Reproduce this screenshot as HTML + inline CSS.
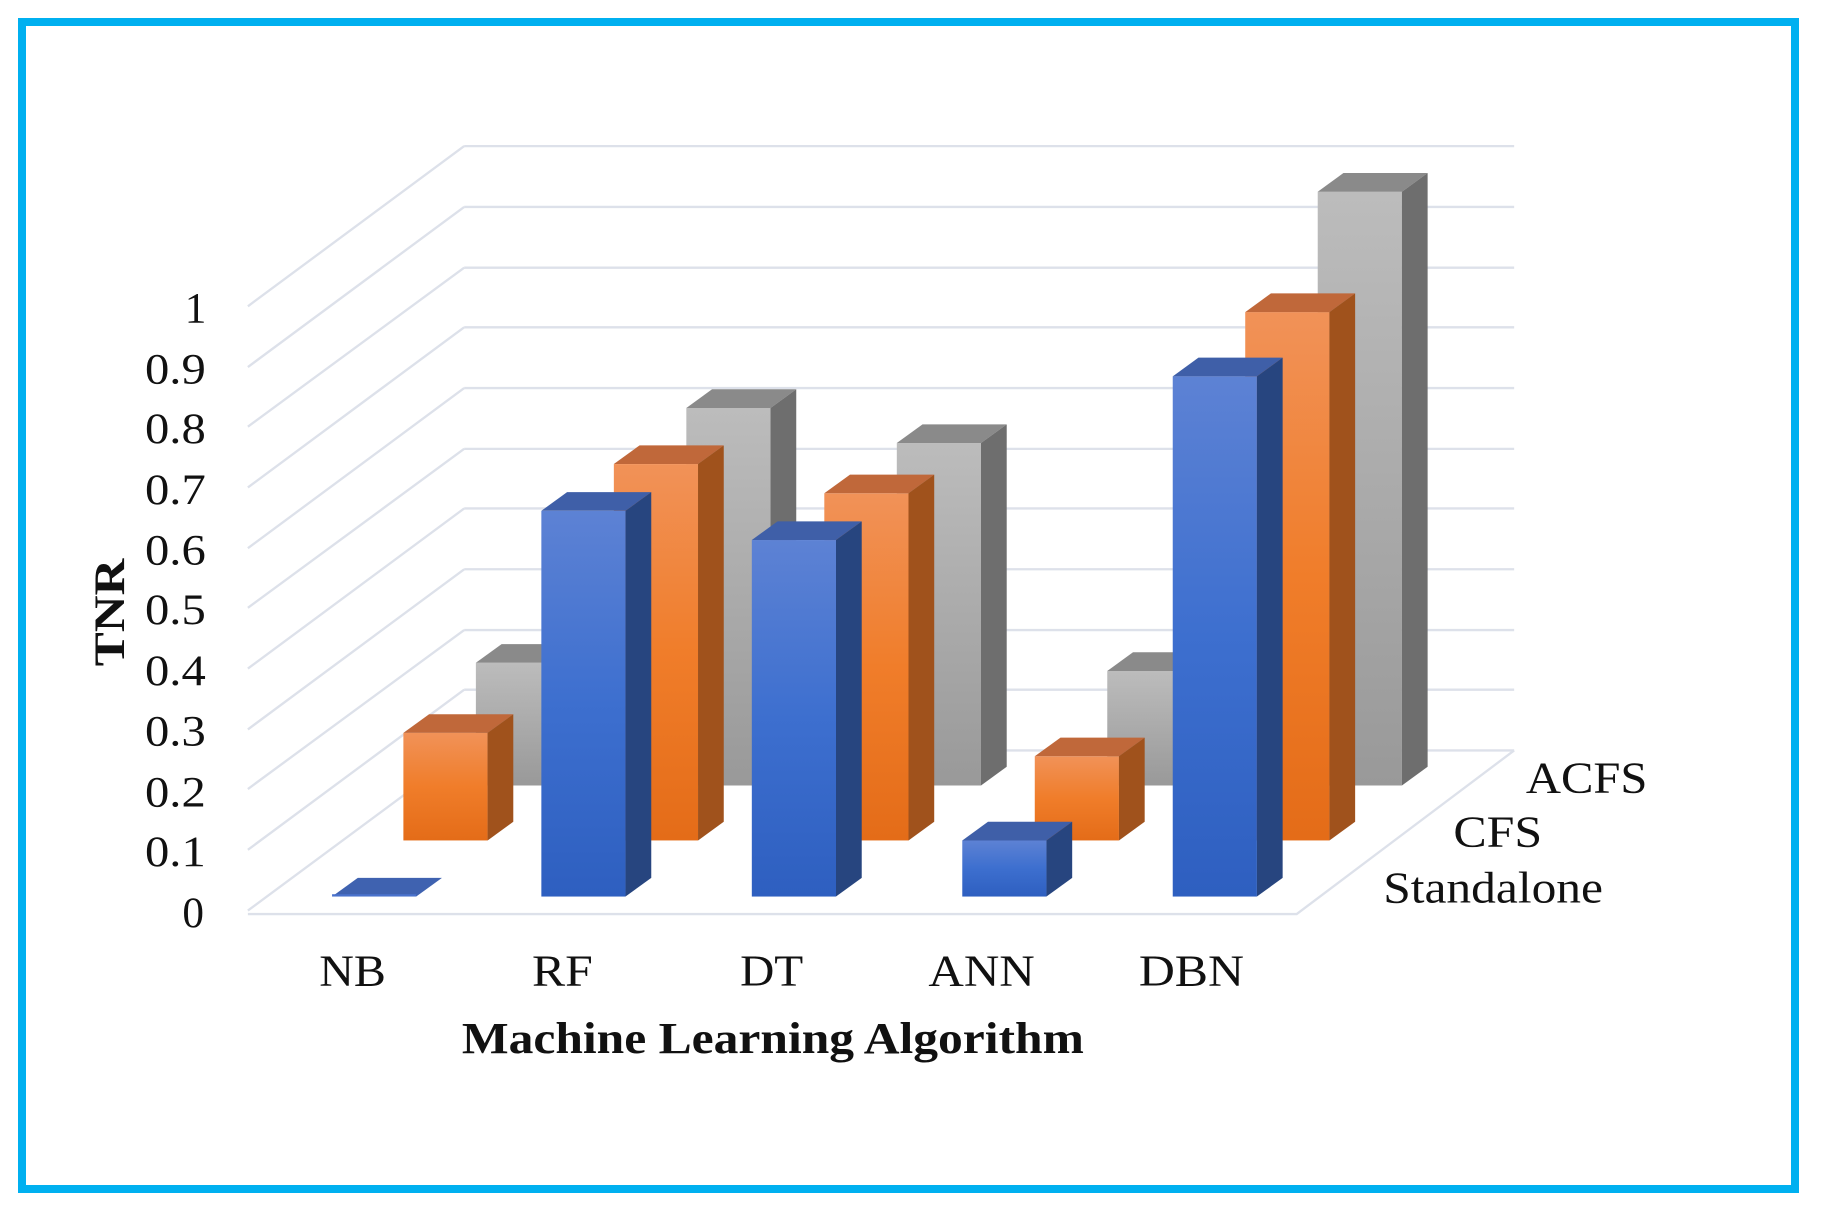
<!DOCTYPE html>
<html><head><meta charset="utf-8"><style>
html,body{margin:0;padding:0;background:#fff;}
#wrap{position:relative;width:1824px;height:1218px;overflow:hidden;background:#fff;}
#frame{position:absolute;left:18px;top:18px;width:1765px;height:1159px;border:8px solid #00b0f0;}
svg{position:absolute;left:0;top:0;}
text{font-family:"Liberation Serif",serif;fill:#111;}
</style></head><body><div id="wrap"><div id="frame"></div>
<svg width="1824" height="1218" viewBox="0 0 1560 1042" preserveAspectRatio="none">
<defs>
<linearGradient id="gb" x1="0" y1="0" x2="0" y2="1"><stop offset="0" stop-color="#5d82d4"/><stop offset="0.5" stop-color="#3d6fcf"/><stop offset="1" stop-color="#2e5fc0"/></linearGradient>
<linearGradient id="go" x1="0" y1="0" x2="0" y2="1"><stop offset="0" stop-color="#f19258"/><stop offset="0.5" stop-color="#f07d2a"/><stop offset="1" stop-color="#e46c18"/></linearGradient>
<linearGradient id="gg" x1="0" y1="0" x2="0" y2="1"><stop offset="0" stop-color="#bcbcbc"/><stop offset="1" stop-color="#999"/></linearGradient>
</defs>
<g transform="translate(-3,-3)">
<g stroke="#dde1ea" stroke-width="2" fill="none">
<path d="M400 128H1298M400 180H1298M400 232H1298M400 283H1298M400 335H1298M400 387H1298M400 438H1298M400 490H1298M400 542H1298M400 593H1298M400 645H1298"/>
<path d="M400 128L215 265M400 180L215 317M400 232L215 368M400 283L215 420M400 335L215 472M400 387L215 523M400 438L215 575M400 490L215 627M400 542L215 678M400 593L215 730M400 645L215 782"/>
<path d="M215 785H1112L1298 645"/>
</g>
<g>
<rect x="410" y="570" width="72" height="105" fill="url(#gg)"/><polygon points="410,570 432,554 504,554 482,570" fill="#8a8a8a"/><polygon points="482,570 504,554 504,659 482,675" fill="#6e6e6e"/>
<rect x="590" y="352" width="72" height="323" fill="url(#gg)"/><polygon points="590,352 612,336 684,336 662,352" fill="#8a8a8a"/><polygon points="662,352 684,336 684,659 662,675" fill="#6e6e6e"/>
<rect x="770" y="382" width="72" height="293" fill="url(#gg)"/><polygon points="770,382 792,366 864,366 842,382" fill="#8a8a8a"/><polygon points="842,382 864,366 864,659 842,675" fill="#6e6e6e"/>
<rect x="950" y="577" width="72" height="98" fill="url(#gg)"/><polygon points="950,577 972,561 1044,561 1022,577" fill="#8a8a8a"/><polygon points="1022,577 1044,561 1044,659 1022,675" fill="#6e6e6e"/>
<rect x="1130" y="167" width="72" height="508" fill="url(#gg)"/><polygon points="1130,167 1152,151 1224,151 1202,167" fill="#8a8a8a"/><polygon points="1202,167 1224,151 1224,659 1202,675" fill="#6e6e6e"/>
</g>
<g>
<rect x="348" y="630" width="72" height="92" fill="url(#go)"/><polygon points="348,630 370,614 442,614 420,630" fill="#c0683a"/><polygon points="420,630 442,614 442,706 420,722" fill="#a0521c"/>
<rect x="528" y="400" width="72" height="322" fill="url(#go)"/><polygon points="528,400 550,384 622,384 600,400" fill="#c0683a"/><polygon points="600,400 622,384 622,706 600,722" fill="#a0521c"/>
<rect x="708" y="425" width="72" height="297" fill="url(#go)"/><polygon points="708,425 730,409 802,409 780,425" fill="#c0683a"/><polygon points="780,425 802,409 802,706 780,722" fill="#a0521c"/>
<rect x="888" y="650" width="72" height="72" fill="url(#go)"/><polygon points="888,650 910,634 982,634 960,650" fill="#c0683a"/><polygon points="960,650 982,634 982,706 960,722" fill="#a0521c"/>
<rect x="1068" y="270" width="72" height="452" fill="url(#go)"/><polygon points="1068,270 1090,254 1162,254 1140,270" fill="#c0683a"/><polygon points="1140,270 1162,254 1162,706 1140,722" fill="#a0521c"/>
</g>
<g>
<polygon points="287,770 309,754 381,754 359,770" fill="#3f62b0"/><rect x="287" y="768" width="72" height="2" fill="#4a72cc"/>
<rect x="466" y="440" width="72" height="330" fill="url(#gb)"/><polygon points="466,440 488,424 560,424 538,440" fill="#3f5fa8"/><polygon points="538,440 560,424 560,754 538,770" fill="#27457f"/>
<rect x="646" y="465" width="72" height="305" fill="url(#gb)"/><polygon points="646,465 668,449 740,449 718,465" fill="#3f5fa8"/><polygon points="718,465 740,449 740,754 718,770" fill="#27457f"/>
<rect x="826" y="722" width="72" height="48" fill="url(#gb)"/><polygon points="826,722 848,706 920,706 898,722" fill="#3f5fa8"/><polygon points="898,722 920,706 920,754 898,770" fill="#27457f"/>
<rect x="1006" y="325" width="72" height="445" fill="url(#gb)"/><polygon points="1006,325 1028,309 1100,309 1078,325" fill="#3f5fa8"/><polygon points="1078,325 1100,309 1100,754 1078,770" fill="#27457f"/>
</g>
</g>
<g font-size="37" transform="translate(-2,-3)">
<text x="158" y="796">0</text>
<text x="126" y="744" textLength="52" lengthAdjust="spacingAndGlyphs">0.1</text>
<text x="126" y="693" textLength="52" lengthAdjust="spacingAndGlyphs">0.2</text>
<text x="126" y="641" textLength="52" lengthAdjust="spacingAndGlyphs">0.3</text>
<text x="126" y="589" textLength="52" lengthAdjust="spacingAndGlyphs">0.4</text>
<text x="126" y="537" textLength="52" lengthAdjust="spacingAndGlyphs">0.5</text>
<text x="126" y="486" textLength="52" lengthAdjust="spacingAndGlyphs">0.6</text>
<text x="126" y="434" textLength="52" lengthAdjust="spacingAndGlyphs">0.7</text>
<text x="126" y="382" textLength="52" lengthAdjust="spacingAndGlyphs">0.8</text>
<text x="126" y="331" textLength="52" lengthAdjust="spacingAndGlyphs">0.9</text>
<text x="160" y="279">1</text>
</g>
<text transform="translate(106,570) rotate(-90)" font-size="37" font-weight="bold" textLength="92" lengthAdjust="spacingAndGlyphs">TNR</text>
<g font-size="38" transform="translate(-3,-3)">
<text x="276" y="846" textLength="57" lengthAdjust="spacingAndGlyphs">NB</text>
<text x="458" y="846" textLength="52" lengthAdjust="spacingAndGlyphs">RF</text>
<text x="636" y="846" textLength="54" lengthAdjust="spacingAndGlyphs">DT</text>
<text x="797" y="846" textLength="91" lengthAdjust="spacingAndGlyphs">ANN</text>
<text x="977" y="846" textLength="90" lengthAdjust="spacingAndGlyphs">DBN</text>
<text x="398" y="904" font-weight="bold" textLength="532" lengthAdjust="spacingAndGlyphs">Machine Learning Algorithm</text>
</g>
<g font-size="38" transform="translate(-7,-3)">
<text x="1312" y="681" textLength="104" lengthAdjust="spacingAndGlyphs">ACFS</text>
<text x="1250" y="727" textLength="76" lengthAdjust="spacingAndGlyphs">CFS</text>
<text x="1190" y="775" textLength="188" lengthAdjust="spacingAndGlyphs">Standalone</text>
</g>
</svg></div></body></html>
